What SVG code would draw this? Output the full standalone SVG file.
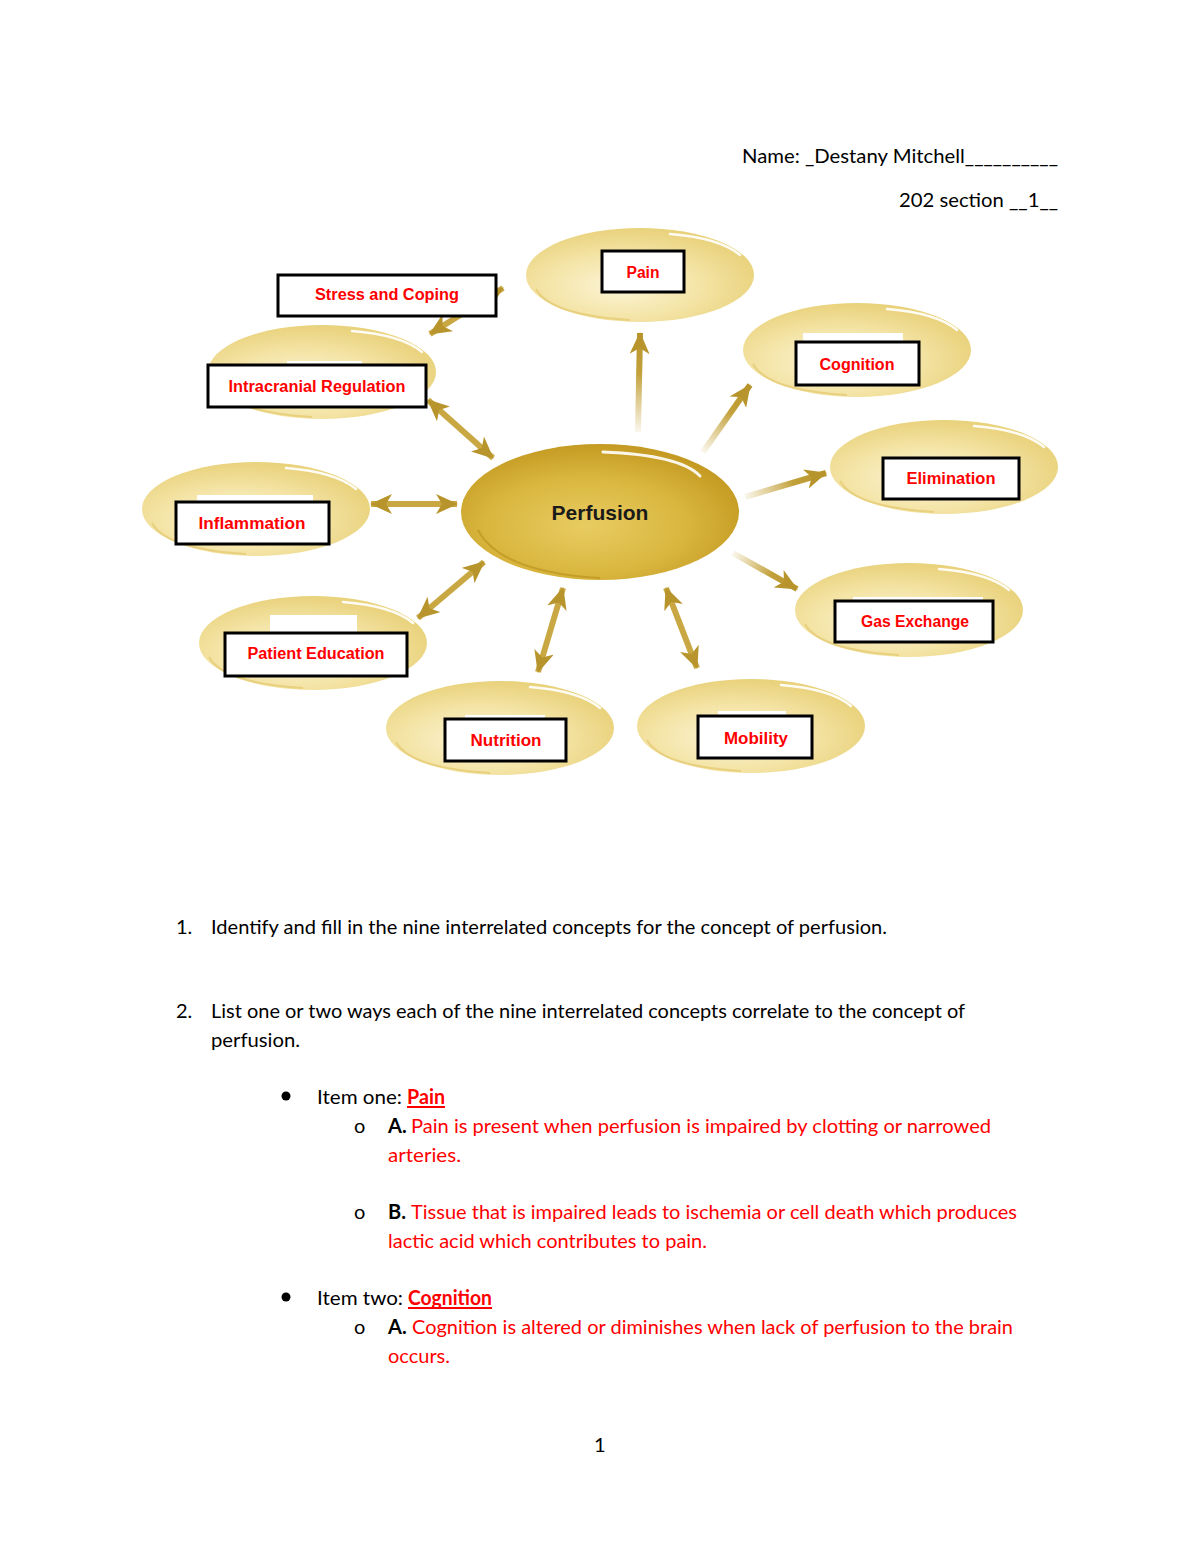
<svg xmlns="http://www.w3.org/2000/svg" xmlns:xlink="http://www.w3.org/1999/xlink" width="1200" height="1553" viewBox="0 0 1200 1553">
<style>
.lbl{font-family:"Liberation Sans",Arial,sans-serif;font-weight:bold;font-size:16px;fill:#ff0000;text-anchor:middle}
.box{fill:#ffffff;stroke:#000000;stroke-width:3}
.body{font-family:Lato,"Open Sans",sans-serif;font-size:20px;fill:#000000}
.red{fill:#ff0000}
.b{font-weight:bold}
.conn{fill:none;stroke-width:6}
.dbl{stroke:#c9a843;marker-start:url(#head);marker-end:url(#head)}
.glint{fill:none;stroke:#ffffff;stroke-linecap:round}
</style>
<defs>
<radialGradient id="paleG" cx="0.42" cy="0.62" r="0.62">
<stop offset="0" stop-color="#fcf5d8"/>
<stop offset="0.55" stop-color="#f4e4a6"/>
<stop offset="1" stop-color="#e9d27c"/>
</radialGradient>
<radialGradient id="goldG" cx="0.45" cy="0.6" r="0.6">
<stop offset="0" stop-color="#e8cc62"/>
<stop offset="0.6" stop-color="#d9b63e"/>
<stop offset="1" stop-color="#c49a22"/>
</radialGradient>
<marker id="head" markerUnits="userSpaceOnUse" viewBox="0 0 22 20" markerWidth="22" markerHeight="20" refX="21" refY="10" orient="auto-start-reverse">
<path d="M0,0 L22,10 L0,20 L6,10 z" fill="#b8952c"/>
</marker>
<g id="pale">
<ellipse cx="0" cy="0" rx="114" ry="47" fill="url(#paleG)"/>
<path d="M-104,14 Q-90,40 -10,45" fill="none" stroke="#e2c86e" stroke-width="2" opacity="0.7"/>
<path class="glint" d="M30,-41 Q80,-37 100,-20" stroke-width="2.5" opacity="0.9"/>
</g>
<linearGradient id="gPain" gradientUnits="userSpaceOnUse" x1="638" y1="432" x2="640" y2="333">
<stop offset="0" stop-color="#c9a843" stop-opacity="0.1"/><stop offset="0.6" stop-color="#c2a03a"/><stop offset="1" stop-color="#b8952c"/>
</linearGradient>
<linearGradient id="gCog" gradientUnits="userSpaceOnUse" x1="703" y1="452" x2="750" y2="385">
<stop offset="0" stop-color="#c9a843" stop-opacity="0.1"/><stop offset="0.6" stop-color="#c2a03a"/><stop offset="1" stop-color="#b8952c"/>
</linearGradient>
<linearGradient id="gElim" gradientUnits="userSpaceOnUse" x1="745" y1="497" x2="826" y2="473">
<stop offset="0" stop-color="#c9a843" stop-opacity="0.1"/><stop offset="0.6" stop-color="#c2a03a"/><stop offset="1" stop-color="#b8952c"/>
</linearGradient>
<linearGradient id="gGas" gradientUnits="userSpaceOnUse" x1="733" y1="553" x2="797" y2="589">
<stop offset="0" stop-color="#c9a843" stop-opacity="0.1"/><stop offset="0.6" stop-color="#c2a03a"/><stop offset="1" stop-color="#b8952c"/>
</linearGradient>
</defs>
<rect width="1200" height="1553" fill="#ffffff"/>

<g id="header">
<text class="body" x="742" y="163" textLength="316" lengthAdjust="spacingAndGlyphs">Name: _Destany Mitchell__________</text>
<text class="body" x="899" y="207" textLength="159" lengthAdjust="spacingAndGlyphs">202 section __1__</text>
</g>

<g id="connectors">
<path class="conn" stroke="url(#gPain)" marker-end="url(#head)" d="M638,432 L640,333"/>
<path class="conn" stroke="url(#gCog)" marker-end="url(#head)" d="M703,452 L750,385"/>
<path class="conn" stroke="url(#gElim)" marker-end="url(#head)" d="M745,497 L826,473"/>
<path class="conn" stroke="url(#gGas)" marker-end="url(#head)" d="M733,553 L797,589"/>
<path class="conn dbl" d="M666,588 L697,668"/>
<path class="conn dbl" d="M563,588 L538,672"/>
<path class="conn dbl" d="M484,562 L418,618"/>
<path class="conn dbl" d="M371,504 L457,504"/>
<path class="conn dbl" d="M428,400 L493,458"/>
<path class="conn dbl" d="M503,288 L430,334"/>
</g>

<g id="perfusion">
<ellipse cx="600" cy="512" rx="139" ry="68" fill="url(#goldG)"/>
<path d="M478,530 Q500,572 600,578" fill="none" stroke="#b8901c" stroke-width="2" opacity="0.6"/>
<path class="glint" d="M603,452 Q680,455 700,476" stroke-width="3" opacity="0.9"/>
<text x="600" y="520" font-family="'Liberation Sans',Arial,sans-serif" font-weight="bold" font-size="21" fill="#1a1a1a" text-anchor="middle">Perfusion</text>
</g>

<g id="pain">
<use xlink:href="#pale" transform="translate(640,275)"/>
<rect class="box" x="602" y="251" width="82" height="41"/>
<text class="lbl" x="643" y="278" textLength="33" lengthAdjust="spacingAndGlyphs">Pain</text>
</g>

<g id="stress-coping">
<rect class="box" x="278" y="275" width="218" height="41"/>
<text class="lbl" x="387" y="300" textLength="144" lengthAdjust="spacingAndGlyphs">Stress and Coping</text>
</g>

<g id="intracranial">
<use xlink:href="#pale" transform="translate(322,372)"/>
<rect x="287" y="361" width="75" height="6" fill="#ffffff"/>
<rect class="box" x="208" y="365" width="218" height="42"/>
<text class="lbl" x="317" y="392" textLength="177" lengthAdjust="spacingAndGlyphs">Intracranial Regulation</text>
</g>

<g id="cognition">
<use xlink:href="#pale" transform="translate(857,350)"/>
<rect x="803" y="333" width="100" height="10" fill="#ffffff"/>
<rect class="box" x="796" y="342" width="123" height="43"/>
<text class="lbl" x="857" y="370" textLength="75" lengthAdjust="spacingAndGlyphs">Cognition</text>
</g>

<g id="elimination">
<use xlink:href="#pale" transform="translate(944,467)"/>
<rect class="box" x="883" y="458" width="136" height="41"/>
<text class="lbl" x="951" y="484" textLength="89" lengthAdjust="spacingAndGlyphs">Elimination</text>
</g>

<g id="inflammation">
<use xlink:href="#pale" transform="translate(256,509)"/>
<rect x="197" y="495" width="116" height="8" fill="#ffffff"/>
<rect class="box" x="176" y="502" width="153" height="42"/>
<text class="lbl" x="252" y="529" textLength="107" lengthAdjust="spacingAndGlyphs">Inflammation</text>
</g>

<g id="gas-exchange">
<use xlink:href="#pale" transform="translate(909,610)"/>
<rect x="853" y="597" width="130" height="5" fill="#ffffff"/>
<rect class="box" x="835" y="601" width="158" height="41"/>
<text class="lbl" x="915" y="627" textLength="108" lengthAdjust="spacingAndGlyphs">Gas Exchange</text>
</g>

<g id="patient-education">
<use xlink:href="#pale" transform="translate(313,643)"/>
<rect x="270" y="615" width="87" height="19" fill="#ffffff"/>
<rect class="box" x="225" y="633" width="182" height="43"/>
<text class="lbl" x="316" y="659" textLength="137" lengthAdjust="spacingAndGlyphs">Patient Education</text>
</g>

<g id="nutrition">
<use xlink:href="#pale" transform="translate(500,728)"/>
<rect x="465" y="715" width="80" height="5" fill="#ffffff"/>
<rect class="box" x="445" y="719" width="121" height="42"/>
<text class="lbl" x="506" y="746" textLength="71" lengthAdjust="spacingAndGlyphs">Nutrition</text>
</g>

<g id="mobility">
<use xlink:href="#pale" transform="translate(751,726)"/>
<rect x="718" y="711" width="68" height="6" fill="#ffffff"/>
<rect class="box" x="698" y="716" width="114" height="42"/>
<text class="lbl" x="756" y="744" textLength="64" lengthAdjust="spacingAndGlyphs">Mobility</text>
</g>

<g id="questions">
<text class="body" x="176" y="934">1.</text>
<text class="body" x="211" y="934" textLength="676" lengthAdjust="spacingAndGlyphs">Identify and fill in the nine interrelated concepts for the concept of perfusion.</text>
<text class="body" x="176" y="1018">2.</text>
<text class="body" x="211" y="1018" textLength="754" lengthAdjust="spacingAndGlyphs">List one or two ways each of the nine interrelated concepts correlate to the concept of</text>
<text class="body" x="211" y="1047" textLength="89" lengthAdjust="spacingAndGlyphs">perfusion.</text>

<circle cx="286" cy="1096" r="4.5" fill="#000000"/>
<text class="body" x="317" y="1104" textLength="85" lengthAdjust="spacingAndGlyphs">Item one:</text>
<text class="body b red" x="407" y="1104" textLength="38" lengthAdjust="spacingAndGlyphs">Pain</text>
<rect x="407" y="1106" width="38" height="2" fill="#ff0000"/>

<text class="body" x="354" y="1133" font-size="17">o</text>
<text class="body b" x="388" y="1133">A.</text>
<text class="body red" x="411" y="1133" textLength="580" lengthAdjust="spacingAndGlyphs">Pain is present when perfusion is impaired by clotting or narrowed</text>
<text class="body red" x="388" y="1162" textLength="73" lengthAdjust="spacingAndGlyphs">arteries.</text>

<text class="body" x="354" y="1219" font-size="17">o</text>
<text class="body b" x="388" y="1219">B.</text>
<text class="body red" x="411" y="1219" textLength="606" lengthAdjust="spacingAndGlyphs">Tissue that is impaired leads to ischemia or cell death which produces</text>
<text class="body red" x="388" y="1248" textLength="319" lengthAdjust="spacingAndGlyphs">lactic acid which contributes to pain.</text>

<circle cx="286" cy="1297" r="4.5" fill="#000000"/>
<text class="body" x="317" y="1305" textLength="86" lengthAdjust="spacingAndGlyphs">Item two:</text>
<text class="body b red" x="408" y="1305" textLength="84" lengthAdjust="spacingAndGlyphs">Cognition</text>
<rect x="408" y="1307" width="84" height="2" fill="#ff0000"/>

<text class="body" x="354" y="1334" font-size="17">o</text>
<text class="body b" x="388" y="1334">A.</text>
<text class="body red" x="412" y="1334" textLength="601" lengthAdjust="spacingAndGlyphs">Cognition is altered or diminishes when lack of perfusion to the brain</text>
<text class="body red" x="388" y="1363" textLength="62" lengthAdjust="spacingAndGlyphs">occurs.</text>

<text class="body" x="594" y="1452">1</text>
</g>
</svg>
